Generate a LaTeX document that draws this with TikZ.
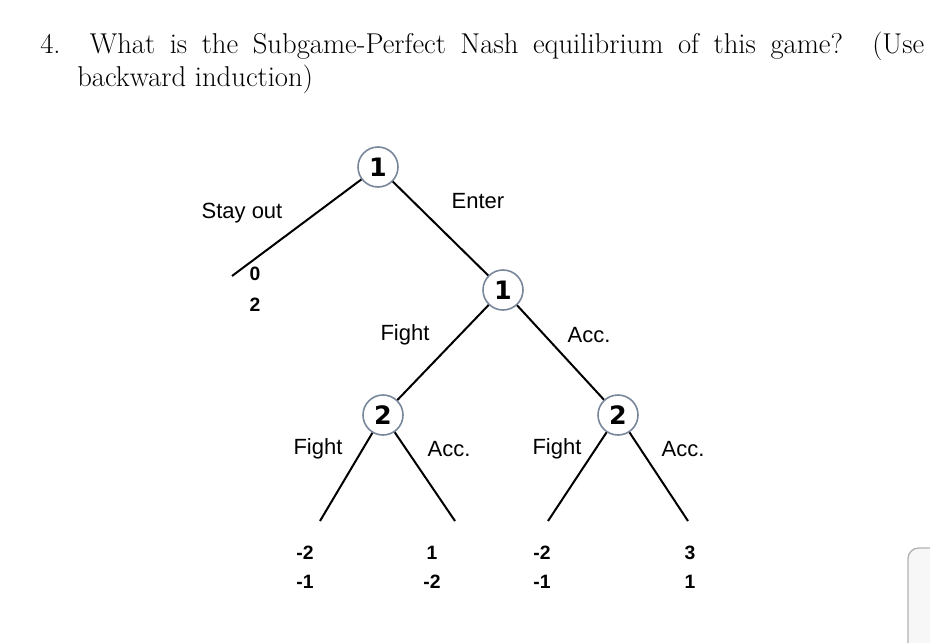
\documentclass[tikz,border=0pt]{standalone}
\usepackage{fontspec}
\newfontfamily\sff{Liberation Sans}
\newfontfamily\dv{DejaVu Sans}
\definecolor{ring}{RGB}{120,135,155}
\begin{document}
\begin{tikzpicture}[x=0.75pt,y=-0.75pt,
  dn/.style={circle,draw=ring,line width=1.2pt,fill=white,minimum size=40*0.75pt,inner sep=0pt,font=\dv\bfseries\fontsize{19}{19}\selectfont},
  lab/.style={font=\sff\fontsize{16.5}{16.5}\selectfont},
  pay/.style={font=\sff\bfseries\fontsize{14.5}{14.5}\selectfont},
  edge/.style={line width=1.5pt}]
\useasboundingbox (0,0) rectangle (930,642);
\node[anchor=base west,inner sep=0pt,font=\fontsize{21.5}{24}\selectfont] (t1) at (40,54) {\makebox[663pt][s]{4. What is the Subgame-Perfect Nash equilibrium of this game? (Use}};
\node[anchor=base west,inner sep=0pt,font=\fontsize{21.5}{24}\selectfont] (t2) at (77,86) {backward induction)};
\node[dn] (r) at (378,167) {1};
\node[dn] (b) at (503,290) {1};
\node[dn] (c) at (383,415) {2};
\node[dn] (d) at (618,415) {2};
\coordinate (so) at (232,276);
\coordinate (l1) at (320,521);
\coordinate (l2) at (455,521);
\coordinate (l3) at (548,521);
\coordinate (l4) at (688,521);
\draw[edge] (r) -- (so);
\draw[edge] (r) -- (b);
\draw[edge] (b) -- (c);
\draw[edge] (b) -- (d);
\draw[edge] (c) -- (l1);
\draw[edge] (c) -- (l2);
\draw[edge] (d) -- (l3);
\draw[edge] (d) -- (l4);
\node[lab] (n1) at (242,213) {Stay out};
\node[lab] (n2) at (478,201) {Enter};
\node[lab] (n3) at (405,335) {Fight};
\node[lab] (n4) at (589,335) {Acc.};
\node[lab] (n5) at (318,449) {Fight};
\node[lab] (n6) at (449,449) {Acc.};
\node[lab] (n7) at (557,449) {Fight};
\node[lab] (n8) at (683,449) {Acc.};
\node[pay] (p1) at (255,274) {0};
\node[pay] (p2) at (255,305) {2};
\node[pay] (p3) at (305,553) {-2};
\node[pay] (p4) at (305,582) {-1};
\node[pay] (p5) at (432,553) {1};
\node[pay] (p6) at (432,582) {-2};
\node[pay] (p7) at (542,553) {-2};
\node[pay] (p8) at (542,582) {-1};
\node[pay] (p9) at (690,553) {3};
\node[pay] (p10) at (690,582) {1};
\draw[gray!60,fill=gray!6,rounded corners=8pt,line width=1pt] (908,548) -- (945,548) -- (945,660) -- (908,660) -- cycle;
\end{tikzpicture}
\end{document}
